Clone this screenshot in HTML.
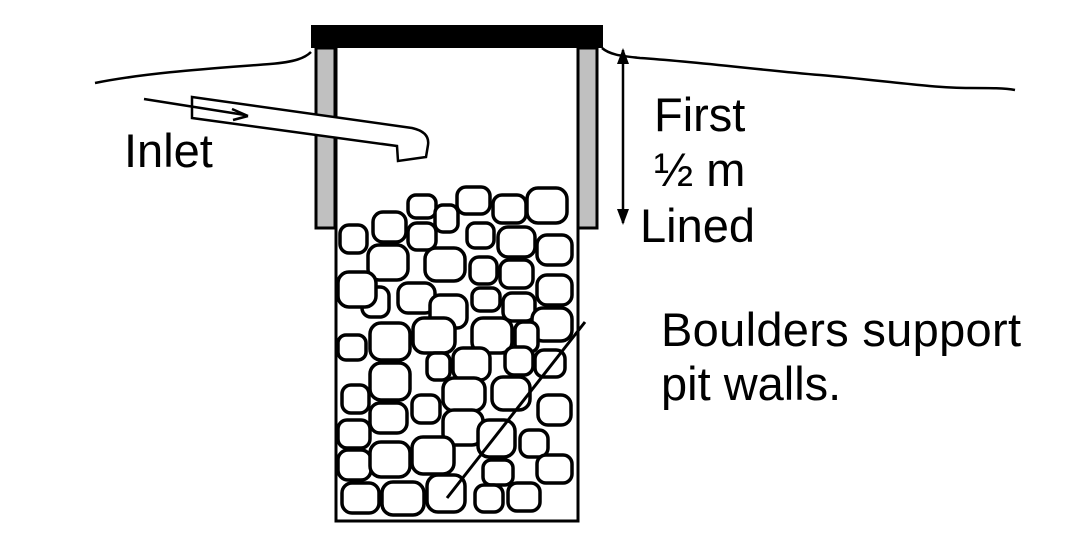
<!DOCTYPE html>
<html><head><meta charset="utf-8"><style>body{margin:0;background:#fff}svg{display:block}</style></head><body>
<svg width="1092" height="542" viewBox="0 0 1092 542" xmlns="http://www.w3.org/2000/svg" font-family="Liberation Sans, sans-serif">
<rect width="1092" height="542" fill="#fff"/>
<path d="M95,83 C150,72 220,68 270,64 C295,62 305,58 311,52" fill="none" stroke="#000" stroke-width="2.5"/>
<path d="M602,48 C610,55 622,56 640,58 C700,62 760,70 820,75 C880,80 930,88 970,88 C990,88 1005,88 1015,90" fill="none" stroke="#000" stroke-width="2.5"/>
<rect x="316" y="48" width="19" height="180" fill="#c0c0c0" stroke="#000" stroke-width="3"/>
<rect x="577" y="48" width="20" height="180" fill="#c0c0c0" stroke="#000" stroke-width="3"/>
<path d="M336,48 V521 H578 V48" fill="#fff" stroke="#000" stroke-width="3"/>
<rect x="311" y="25" width="292" height="23" fill="#000"/>
<path d="M192,97 L412,128 Q430,132 428,145 L426,157 L398,161 L397,146 L192,118 Z" fill="#fff" stroke="#000" stroke-width="2.5"/>
<line x1="144" y1="99" x2="245" y2="115" stroke="#000" stroke-width="2.5"/>
<path d="M248,116 L232,109 M248,116 L233,120" stroke="#000" stroke-width="2.5" fill="none"/>
<g fill="#fff" stroke="#000" stroke-width="3.5">
<rect x="340" y="225" width="27" height="28" rx="9"/><rect x="373" y="212" width="33" height="30" rx="10"/><rect x="408" y="195" width="28" height="23" rx="8"/><rect x="435" y="205" width="23" height="27" rx="8"/><rect x="457" y="187" width="33" height="27" rx="9"/><rect x="493" y="195" width="33" height="28" rx="9"/><rect x="527" y="188" width="40" height="35" rx="11"/><rect x="408" y="223" width="28" height="27" rx="9"/><rect x="368" y="245" width="40" height="35" rx="11"/><rect x="425" y="248" width="40" height="33" rx="11"/><rect x="467" y="223" width="27" height="25" rx="8"/><rect x="498" y="227" width="37" height="30" rx="10"/><rect x="537" y="235" width="35" height="30" rx="10"/><rect x="470" y="257" width="27" height="27" rx="9"/><rect x="500" y="260" width="33" height="28" rx="9"/><rect x="537" y="275" width="35" height="30" rx="10"/><rect x="362" y="287" width="27" height="30" rx="9"/><rect x="338" y="272" width="38" height="35" rx="11"/><rect x="398" y="283" width="37" height="30" rx="10"/><rect x="430" y="295" width="37" height="33" rx="10"/><rect x="472" y="288" width="28" height="23" rx="8"/><rect x="503" y="293" width="32" height="28" rx="9"/><rect x="532" y="308" width="40" height="33" rx="11"/><rect x="338" y="335" width="28" height="25" rx="8"/><rect x="370" y="323" width="40" height="37" rx="11"/><rect x="413" y="318" width="42" height="35" rx="11"/><rect x="472" y="318" width="40" height="35" rx="11"/><rect x="515" y="322" width="23" height="30" rx="8"/><rect x="427" y="353" width="23" height="27" rx="8"/><rect x="453" y="348" width="37" height="32" rx="10"/><rect x="505" y="347" width="28" height="28" rx="9"/><rect x="535" y="350" width="30" height="27" rx="9"/><rect x="370" y="363" width="40" height="37" rx="11"/><rect x="342" y="385" width="27" height="28" rx="9"/><rect x="412" y="395" width="28" height="28" rx="9"/><rect x="443" y="378" width="42" height="33" rx="11"/><rect x="492" y="377" width="38" height="33" rx="11"/><rect x="538" y="395" width="33" height="30" rx="10"/><rect x="370" y="403" width="37" height="30" rx="10"/><rect x="338" y="420" width="32" height="28" rx="9"/><rect x="443" y="410" width="40" height="35" rx="11"/><rect x="478" y="420" width="37" height="37" rx="11"/><rect x="520" y="430" width="28" height="27" rx="9"/><rect x="338" y="450" width="33" height="30" rx="10"/><rect x="370" y="442" width="40" height="35" rx="11"/><rect x="412" y="437" width="42" height="37" rx="11"/><rect x="483" y="460" width="30" height="25" rx="8"/><rect x="537" y="455" width="35" height="28" rx="9"/><rect x="342" y="483" width="37" height="30" rx="10"/><rect x="382" y="482" width="42" height="33" rx="11"/><rect x="427" y="475" width="38" height="37" rx="11"/><rect x="475" y="485" width="28" height="27" rx="9"/><rect x="508" y="483" width="32" height="28" rx="9"/>
</g>
<line x1="447" y1="498" x2="585" y2="322" stroke="#000" stroke-width="3"/>
<line x1="623" y1="50" x2="623" y2="223" stroke="#000" stroke-width="2.5"/>
<path d="M617,64 L623,48 L629,64 Z M617,209 L623,225 L629,209 Z" fill="#000"/>
<g font-size="47" fill="#000">
<text x="124" y="167">Inlet</text>
<text x="654" y="131">First</text>
<text x="654" y="186">½ m</text>
<text x="640" y="242">Lined</text>
<text x="661" y="346" textLength="360">Boulders support</text>
<text x="661" y="400">pit walls.</text>
</g>
</svg>
</body></html>
